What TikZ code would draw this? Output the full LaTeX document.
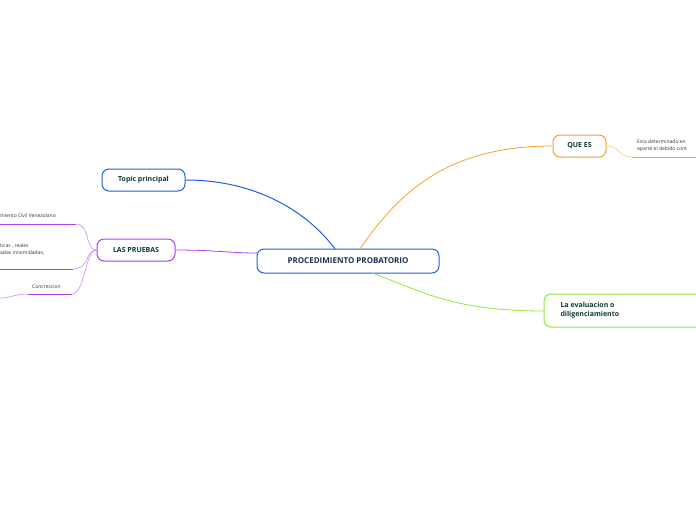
\documentclass[tikz,border=0pt]{standalone}
\usepackage{fontspec}
\setmainfont{Open Sans}
\definecolor{navy}{HTML}{1B2F4F}
\definecolor{dkgreen}{HTML}{0E3B2E}
\definecolor{cblue}{HTML}{1E5FE6}
\definecolor{cpurp}{HTML}{B03CF0}
\definecolor{corange}{HTML}{F7A12A}
\definecolor{cgreen}{HTML}{8DE83A}
\begin{document}
\begin{tikzpicture}[x=1pt,y=-1pt,
  box/.style={draw,rounded corners=7pt,line width=1pt,fill=white,font=\bfseries\fontsize{7}{9}\selectfont,text=dkgreen,inner sep=0pt},
  small/.style={font=\fontsize{5}{6.5}\selectfont,text=black!80,anchor=west,inner sep=0pt,align=left}]
\useasboundingbox (0,0) rectangle (696,520);
\node[box,draw=cblue,minimum width=182pt,minimum height=24pt,text=navy,font=\bfseries\fontsize{8}{10}\selectfont] (c) at (348,261) {PROCEDIMIENTO PROBATORIO};
\node[box,draw=cblue,minimum width=83pt,minimum height=22pt] (tp) at (143.5,180) {Topic principal};
\node[box,draw=cpurp,minimum width=78pt,minimum height=22pt] (lp) at (136,250) {LAS PRUEBAS};
\node[box,draw=corange,minimum width=53pt,minimum height=22pt] (qe) at (579.5,146) {QUE ES};
\draw[cgreen,line width=1pt,rounded corners=7pt] (700,294) -- (544,294) -- (544,327) -- (700,327);
\node[font=\bfseries\fontsize{7}{9}\selectfont,text=dkgreen,anchor=west,align=left] (ev) at (557,310.5) {La evaluacion o\\diligenciamiento};
\coordinate (evl) at (544,311);
\draw[cblue,line width=1pt] (tp.east) .. controls (260,180) and (310,215) .. (335,249);
\draw[cpurp,line width=0.8pt] (lp.east) .. controls (215,250) and (230,253) .. (257,253);
\draw[corange,line width=0.8pt] (qe.west) .. controls (450,146) and (400,190) .. (360,249);
\draw[cgreen,line width=0.8pt] (evl) .. controls (450,311) and (420,290) .. (372,273);
% purple subbranches
\coordinate (p1) at (0,224); \coordinate (p1e) at (76,224);
\coordinate (p2) at (0,269); \coordinate (p2e) at (73,269);
\coordinate (p3) at (28,294); \coordinate (p3e) at (72,294);
\coordinate (p4) at (0,298);
\draw[cpurp,line width=1pt] (p1) -- (p1e);
\draw[cpurp,line width=1pt] (p2) -- (p2e);
\draw[cpurp,line width=1pt] (p3) -- (p3e);
\draw[cpurp!60,line width=0.6pt] (p3) .. controls (15,294) and (10,298) .. (p4);
\draw[cpurp!60,line width=0.6pt] (p1e) .. controls (90,224) and (85,250) .. (lp.west);
\draw[cpurp!60,line width=0.6pt] (p2e) .. controls (90,269) and (85,250) .. (lp.west);
\draw[cpurp!60,line width=0.6pt] (p3e) .. controls (85,294) and (85,250) .. (lp.west);
\node[small] (t1) at (0,216) {miento Civil Venezolano};
\node[small] (t2) at (0,249.5) {ticas , reales\\adas innomidadas,};
\node[small] (t3) at (32,287) {Concreccion};
% orange subbranch
\coordinate (o1) at (632,157); \coordinate (o2) at (700,157);
\draw[corange,line width=1pt] (o1) -- (o2);
\draw[corange!60,line width=0.6pt] (qe.east) .. controls (620,146) and (618,157) .. (o1);
\node[small] (t4) at (637,145.5) {Esta determinado en\\aparte el debido cont};
\end{tikzpicture}
\end{document}
